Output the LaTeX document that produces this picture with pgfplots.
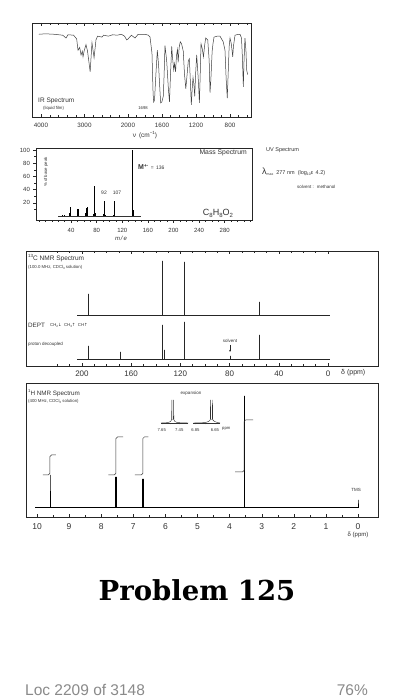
\documentclass[border=0pt]{standalone}
\usepackage{fontspec}
\setmainfont{Liberation Sans}
\newfontfamily\titlefont{DejaVu Serif}
\newfontfamily\dejavu{DejaVu Sans}
\usepackage{pgfplots}
\usepackage{pgfplotstable}
\pgfplotsset{compat=1.18}
\usetikzlibrary{arrows.meta}
\newcommand\fs[1]{\fontsize{#1}{#1}\selectfont}
\newcommand\up[2]{\raisebox{0.38em}{\fs{#1}#2}}
\newcommand\dn[2]{\raisebox{-0.22em}{\fs{#1}#2}}
\definecolor{foot}{HTML}{8A8A8A}
\definecolor{ink}{HTML}{333333}

\pgfplotstableread{
nu T
4050 88
3900 88.5
3700 88
3500 87
3425 84
3380 87.5
3250 87
3180 83
3149 71
3110 74
3080 66
3050 70
3034 64
3010 70
2966 77
2930 70
2870 48
2828 79
2780 63
2736 82
2700 86
2600 85
2560 87
2450 86
2350 87.5
2250 87
2150 88
2080 86
2030 82
2000 83
1960 87
1918 84
1880 88
1800 88
1760 87
1741 85
1718 68
1705 25
1698 16
1688 18
1672 45
1655 71
1640 55
1631 39
1616 15
1602 16
1585 22
1575 45
1565 76
1545 60
1525 30
1512 16
1500 45
1486 75
1475 62
1462 50
1452 57
1440 48
1430 65
1418 72
1410 58
1398 74
1385 80
1370 78
1350 70
1335 45
1320 30
1305 45
1290 60
1278 62
1265 35
1255 13
1245 30
1235 42
1225 35
1215 22
1205 45
1192 66
1180 50
1170 35
1160 15
1152 40
1141 78
1125 72
1112 64
1100 75
1086 84
1062 82
1045 60
1035 26
1025 40
1010 70
1000 78
988 85
950 86
918 86
880 80
859 71
845 40
832 20
822 45
810 75
800 84
785 78
775 70
768 64
760 75
741 87
700 88
682 88
665 84
655 65
643 32
635 60
624 84
612 70
604 50
592 45
}\irdata

\pgfplotstableread{
mz I
27 2
29 2
37 4
38 6
39 13
50 10
51 11
52 2
62 4
63 12
64 4
65 13
74 3
75 2
76 5
77 45
78 5
91 3
92 22
93 2
106 2
107 22
108 2
135 100
136 75
137 9
}\msdata

\pgfplotsset{spec/.style={scale only axis, anchor=south west,
  axis line style={black!85, line width=0.5pt},
  tick style={black!85, line width=0.4pt},
  major tick length=2.6pt, minor tick length=1.6pt,
  /pgf/number format/assume math mode=true,
  ticklabel style={text=ink}}}

\begin{document}
\begin{tikzpicture}
\useasboundingbox (0,0) rectangle (395pt,700pt);
\fill[white] (0,0) rectangle (395pt,700pt);

% ---------------- IR ----------------
\begin{axis}[spec, at={(32pt,583pt)}, width=219pt, height=94pt,
  xmin=32, xmax=251, ymin=0, ymax=100, ytick=\empty,
  xtick={41,84.5,128,162,196,230},
  xticklabels={4000,3000,2000,1600,1200,800},
  minor xtick={49.7,58.4,67.1,75.8,93.2,101.9,110.6,119.3,136.5,145,153.5,170.5,179,187.5,204.5,213,221.5,238.5,247},
  xtick pos=both, xticklabel pos=left,
  xticklabel style={font=\fs{6.3}, yshift=-2.5pt}]
\addplot[black!75, line width=0.5pt] table[x expr={(\thisrow{nu}>=2000)*(128-(\thisrow{nu}-2000)*0.0435)+(\thisrow{nu}<2000)*(128+(2000-\thisrow{nu})*0.085)}, y=T] {\irdata};
\end{axis}

% ---------------- Mass ----------------
\begin{axis}[spec, at={(36pt,480pt)}, width=216pt, height=72pt,
  xmin=-14.8, xmax=322.7, ymin=-6, ymax=103,
  xtick={40,80,...,280}, minor xtick={-10,0,...,320},
  ytick={20,40,...,100}, minor ytick={10,30,50,70,90},
  xtick pos=bottom, ytick pos=left, tick align=outside,
  ticklabel style={font=\fs{6}}, xticklabel style={yshift=-2pt}]
\addplot[black!80, line width=0.5pt] coordinates {(20,0)(150,0)};
\addplot[ycomb, black, line width=0.55pt, no marks] table[x=mz, y=I] {\msdata};
\end{axis}

% ---------------- 13C ----------------
\begin{axis}[spec, at={(26pt,334pt)}, width=352pt, height=115pt,
  xmin=-40.65, xmax=245.5, x dir=reverse, ymin=0, ymax=115, ytick=\empty,
  xtick={0,40,...,200}, minor xtick={0,10,...,220},
  xtick pos=both, xticklabel pos=left,
  xticklabel style={font=\fs{8}, yshift=-1.5pt}]
\addplot[black!85, line width=0.45pt] coordinates {(204,51)(194.9,51)(194.9,72)(194.9,51)(134.4,51)(134.4,105)(134.4,51)(116.8,51)(116.8,104)(116.8,51)(56.3,51)(56.3,64)(56.3,51)(-1.6,51)};
\addplot[black!85, line width=0.45pt] coordinates {(204,7)(194.9,7)(194.9,20)(194.9,7)(168.5,7)(168.5,14)(168.5,7)(134.4,7)(134.4,41)(134.4,7)(132.8,7)(132.8,16)(132.8,7)(116.8,7)(116.8,44)(116.8,7)(79.7,7)(79.7,10)(79.7,7)(56.3,7)(56.3,31)(56.3,7)(-1.6,7)};
\end{axis}

% ---------------- 1H ----------------
\begin{axis}[spec, at={(26pt,183pt)}, width=352pt, height=134pt,
  xmin=-0.623, xmax=10.343, x dir=reverse, ymin=0, ymax=134, ytick=\empty,
  xtick={0,...,10}, minor x tick num=1, xtick pos=bottom,
  xticklabel style={font=\fs{8.5}, yshift=-3pt}]
\addplot[black, line width=0.5pt] coordinates {(10.06,10)(9.595,10)(9.595,42)(9.595,10)(7.555,10)(7.555,40)(7.555,10)(7.53,10)(7.53,40)(7.53,10)(6.715,10)(6.715,38)(6.715,10)(6.69,10)(6.69,38)(6.69,10)(3.55,10)(3.55,121)(3.55,10)(0,10)(0,17)(0,10)(-0.03,10)};
\addplot[black!80, line width=0.5pt, rounded corners=1.6pt] coordinates {(9.82,42)(9.6,42)(9.6,62)(9.41,62)};
\addplot[black!80, line width=0.5pt, rounded corners=1.6pt] coordinates {(7.78,42)(7.545,42)(7.545,80)(7.32,80)};
\addplot[black!80, line width=0.5pt, rounded corners=1.6pt] coordinates {(6.95,42)(6.705,42)(6.705,80)(6.53,80)};
\addplot[black!80, line width=0.5pt, rounded corners=1.6pt] coordinates {(3.83,45)(3.55,45)(3.55,97)(3.27,97)};
\end{axis}

% expansions
\begin{axis}[scale only axis, anchor=south west, at={(160.9pt,277pt)}, width=27.4pt, height=25pt,
  xmin=7.347, xmax=7.66, x dir=reverse, ymin=0, ymax=27,
  axis x line=bottom, axis y line=none, x axis line style={-, black!80, line width=0.4pt},
  tick style={black!80, line width=0.35pt}, tick align=outside, major tick length=1.3pt,
  xtick={7.45,7.55,7.65}, xticklabels={7.45,,7.65},
  /pgf/number format/assume math mode=true,
  xticklabel style={font=\fs{4.2}, text=ink, yshift=-0.8pt}]
\addplot[black!80, line width=0.4pt] coordinates {(7.66,0)(7.58,0.4)(7.55,1.6)(7.538,3.5)(7.535,25)(7.533,4)(7.517,4)(7.515,25)(7.512,3.5)(7.50,1.6)(7.47,0.4)(7.347,0)};
\end{axis}
\begin{axis}[scale only axis, anchor=south west, at={(193.3pt,277pt)}, width=26.7pt, height=25pt,
  xmin=6.598, xmax=6.872, x dir=reverse, ymin=0, ymax=27,
  axis x line=bottom, axis y line=none, x axis line style={-, black!80, line width=0.4pt},
  tick style={black!80, line width=0.35pt}, tick align=outside, major tick length=1.3pt,
  xtick={6.65,6.75,6.85}, xticklabels={6.65,,6.85},
  /pgf/number format/assume math mode=true,
  xticklabel style={font=\fs{4.2}, text=ink, yshift=-0.8pt}]
\addplot[black!80, line width=0.4pt] coordinates {(6.872,0)(6.75,0.4)(6.715,1.6)(6.698,3.5)(6.695,25)(6.693,4)(6.677,4)(6.675,25)(6.672,3.5)(6.655,1.6)(6.62,0.4)(6.598,0)};
\end{axis}

% ---------------- texts ----------------
\begin{scope}[every node/.style={inner sep=0pt, text=ink}]
% IR
\node[anchor=west, font=\fs{6.5}] at (38pt,599pt) {IR Spectrum};
\node[anchor=west, font=\fs{4.3}] at (43pt,591.5pt) {(liquid film)};
\node[font=\fs{4.2}] at (143pt,591.5pt) {1698};
\node[font=\fs{6.5}] at (145pt,565pt) {ν \,(cm\up{4.5}{−1})};
% Mass
\node[rotate=90, font=\fs{4.3}] at (46pt,528pt) {\% of base peak};
\node[anchor=east, font=\fs{6.8}] at (247pt,547pt) {Mass Spectrum};
\node[anchor=west, font=\fs{7}] at (138pt,533pt) {\bfseries M\up{5}{\bfseries +·}\,\,{\normalfont\fs{5}= \,136}};
\node[font=\fs{5}] at (104pt,507pt) {92};
\node[font=\fs{5}] at (117pt,507pt) {107};
\node[font=\fs{9}] at (218pt,487pt) {C\dn{6}{8}H\dn{6}{8}O\dn{6}{2}};
\node[font=\fs{6}\itshape] at (121pt,462pt) {m\,/\,e};
% UV
\node[anchor=west, font=\fs{5.5}] at (266pt,550pt) {UV Spectrum};
\node[anchor=west, font=\fs{5.5}] at (262pt,528pt) {{\fs{9}λ}\dn{3.5}{max}\ \ 277 nm \ (log\dn{3.5}{10}ε \,4.2)};
\node[anchor=west, font=\fs{4.5}] at (297pt,513pt) {solvent : \ methanol};
% 13C
\node[anchor=west, font=\fs{6.5}] at (28pt,442pt) {\up{4.5}{13}C NMR Spectrum};
\node[anchor=west, font=\fs{4.3}] at (28pt,433pt) {(100.0 MHz, CDCl\dn{3}{3} solution)};
\node[anchor=west, font=\fs{6.3}] at (28pt,375pt) {DEPT};
\node[anchor=west, font=\fs{4.3}] at (50pt,375pt) {CH\dn{3}{2}{\dejavu ↓} \ CH\dn{3}{3}{\dejavu ↑} \ CH{\dejavu ↑}};
\node[anchor=west, font=\fs{4.5}] at (28pt,356pt) {proton decoupled};
\node[font=\fs{4.5}] at (230pt,359pt) {solvent};
\node[anchor=west, font=\fs{7}] at (341pt,327pt) {δ (ppm)};
% 1H
\node[anchor=west, font=\fs{6.3}] at (28pt,307pt) {\up{4.3}{1}H NMR Spectrum};
\node[anchor=west, font=\fs{4.3}] at (28pt,299pt) {(400 MHz, CDCl\dn{3}{3} solution)};
\node[font=\fs{4.5}] at (191pt,307pt) {expansion};
\node[anchor=west, font=\fs{4.2}] at (222pt,271pt) {ppm};
\node[font=\fs{4.5}] at (356pt,210pt) {TMS};
\node[font=\fs{6}] at (358pt,165pt) {δ (ppm)};
% footer
\node[font=\titlefont\bfseries\fs{27.5}, text=black] at (197pt,110pt) {Problem 125};
\node[anchor=west, font=\fs{15.5}, text=foot] at (25pt,10pt) {Loc 2209 of 3148};
\node[anchor=east, font=\fs{15.5}, text=foot] at (368pt,10pt) {76\%};
\end{scope}
\draw[-{Stealth[length=2.2pt,width=1.8pt]}, black!85, line width=0.5pt] (230pt,355pt) -- (230pt,348pt);
\end{tikzpicture}
\end{document}
